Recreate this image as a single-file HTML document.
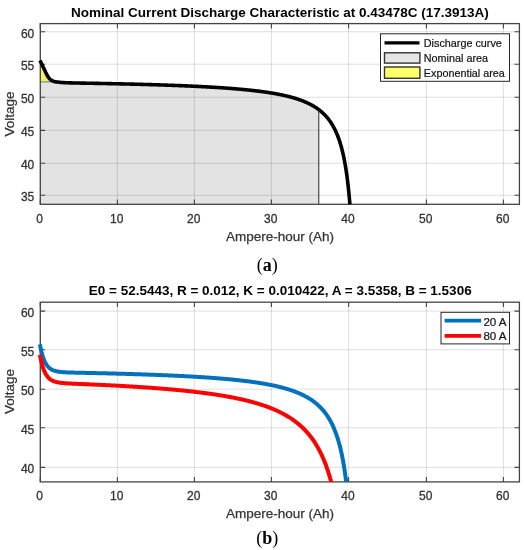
<!DOCTYPE html><html><head><meta charset="utf-8"><style>html,body{margin:0;padding:0;background:#fff;}svg{display:block;}.tk{font-family:"Liberation Sans",Arial,sans-serif;font-size:12px;fill:#333;stroke:#333;stroke-width:0.3px;}.lb{font-family:"Liberation Sans",Arial,sans-serif;font-size:13.5px;fill:#333;stroke:#333;stroke-width:0.25px;}.tt{font-family:"Liberation Sans",Arial,sans-serif;font-size:13.5px;font-weight:bold;fill:#000;}.lg{font-family:"Liberation Sans",Arial,sans-serif;font-size:10.8px;fill:#111;stroke:#111;stroke-width:0.2px;}.cap{font-family:"Liberation Serif","Times New Roman",serif;font-size:18px;fill:#000;}</style></head><body>
<svg width="524" height="550" viewBox="0 0 524 550">
<rect width="524" height="550" fill="#fff"/>
<defs><clipPath id="ct"><rect x="36.3" y="19.6" width="483.1" height="184.7"/></clipPath><clipPath id="cb"><rect x="36.3" y="298.2" width="483.1" height="183.7"/></clipPath></defs>
<g clip-path="url(#ct)">
<path d="M39.93,206.3 L40,60.4 L41,62.5 L42.1,64.8 L43.3,67.2 L44.6,70 L45.8,72.6 L47,75 L48.4,77.4 L49.8,79 L51.1,80.1 L52.6,80.9 L54.3,81.5 L56,81.9 L57,81.94 L57.39,82.01 L57.77,82.07 L58.16,82.12 L58.54,82.17 L58.93,82.22 L59.32,82.27 L59.7,82.31 L60.09,82.35 L60.48,82.38 L60.86,82.42 L61.25,82.45 L61.63,82.48 L62.02,82.51 L62.41,82.54 L62.79,82.56 L63.18,82.59 L63.56,82.61 L63.95,82.63 L64.34,82.65 L64.72,82.67 L65.11,82.69 L65.5,82.71 L65.88,82.72 L66.27,82.74 L66.65,82.75 L67.04,82.77 L67.43,82.78 L67.81,82.8 L68.2,82.81 L68.58,82.82 L68.97,82.83 L69.36,82.84 L69.74,82.85 L70.13,82.86 L70.52,82.87 L70.9,82.88 L71.29,82.89 L71.67,82.9 L72.06,82.91 L72.45,82.92 L72.83,82.93 L73.22,82.94 L73.6,82.95 L73.99,82.96 L74.38,82.96 L74.76,82.97 L75.15,82.98 L75.54,82.99 L75.92,82.99 L76.31,83 L76.69,83.01 L77.08,83.02 L77.47,83.02 L77.85,83.03 L78.24,83.04 L78.62,83.05 L79.01,83.05 L79.4,83.06 L79.78,83.07 L80.17,83.07 L80.56,83.08 L80.94,83.09 L81.33,83.09 L81.71,83.1 L82.1,83.11 L82.49,83.12 L82.87,83.12 L83.26,83.13 L83.64,83.14 L84.03,83.14 L84.42,83.15 L84.8,83.16 L85.19,83.16 L85.58,83.17 L85.96,83.18 L86.35,83.18 L86.73,83.19 L87.12,83.2 L87.51,83.2 L87.89,83.21 L88.28,83.22 L88.66,83.22 L89.05,83.23 L89.44,83.24 L89.82,83.25 L90.21,83.25 L90.6,83.26 L90.98,83.27 L91.37,83.27 L91.75,83.28 L92.14,83.29 L92.53,83.29 L92.91,83.3 L93.3,83.31 L93.68,83.31 L94.07,83.32 L94.46,83.33 L94.84,83.34 L95.23,83.34 L95.61,83.35 L96,83.36 L96.39,83.36 L96.77,83.37 L97.16,83.38 L97.55,83.39 L97.93,83.39 L98.32,83.4 L98.7,83.41 L99.09,83.42 L99.48,83.42 L99.86,83.43 L100.25,83.44 L100.63,83.44 L101.02,83.45 L101.41,83.46 L101.79,83.47 L102.18,83.47 L102.57,83.48 L102.95,83.49 L103.34,83.5 L103.72,83.5 L104.11,83.51 L104.5,83.52 L104.88,83.53 L105.27,83.54 L105.65,83.54 L106.04,83.55 L106.43,83.56 L106.81,83.57 L107.2,83.57 L107.59,83.58 L107.97,83.59 L108.36,83.6 L108.74,83.6 L109.13,83.61 L109.52,83.62 L109.9,83.63 L110.29,83.64 L110.67,83.64 L111.06,83.65 L111.45,83.66 L111.83,83.67 L112.22,83.68 L112.61,83.68 L112.99,83.69 L113.38,83.7 L113.76,83.71 L114.15,83.72 L114.54,83.73 L114.92,83.73 L115.31,83.74 L115.69,83.75 L116.08,83.76 L116.47,83.77 L116.85,83.78 L117.24,83.78 L117.63,83.79 L118.01,83.8 L118.4,83.81 L118.78,83.82 L119.17,83.83 L119.56,83.84 L119.94,83.84 L120.33,83.85 L120.71,83.86 L121.1,83.87 L121.49,83.88 L121.87,83.89 L122.26,83.9 L122.65,83.9 L123.03,83.91 L123.42,83.92 L123.8,83.93 L124.19,83.94 L124.58,83.95 L124.96,83.96 L125.35,83.97 L125.73,83.98 L126.12,83.99 L126.51,83.99 L126.89,84 L127.28,84.01 L127.67,84.02 L128.05,84.03 L128.44,84.04 L128.82,84.05 L129.21,84.06 L129.6,84.07 L129.98,84.08 L130.37,84.09 L130.75,84.1 L131.14,84.11 L131.53,84.12 L131.91,84.13 L132.3,84.13 L132.69,84.14 L133.07,84.15 L133.46,84.16 L133.84,84.17 L134.23,84.18 L134.62,84.19 L135,84.2 L135.39,84.21 L135.77,84.22 L136.16,84.23 L136.55,84.24 L136.93,84.25 L137.32,84.26 L137.71,84.27 L138.09,84.28 L138.48,84.29 L138.86,84.3 L139.25,84.31 L139.64,84.32 L140.02,84.33 L140.41,84.34 L140.79,84.35 L141.18,84.36 L141.57,84.37 L141.95,84.38 L142.34,84.4 L142.73,84.41 L143.11,84.42 L143.5,84.43 L143.88,84.44 L144.27,84.45 L144.66,84.46 L145.04,84.47 L145.43,84.48 L145.81,84.49 L146.2,84.5 L146.59,84.51 L146.97,84.52 L147.36,84.53 L147.75,84.55 L148.13,84.56 L148.52,84.57 L148.9,84.58 L149.29,84.59 L149.68,84.6 L150.06,84.61 L150.45,84.62 L150.83,84.64 L151.22,84.65 L151.61,84.66 L151.99,84.67 L152.38,84.68 L152.77,84.69 L153.15,84.7 L153.54,84.72 L153.92,84.73 L154.31,84.74 L154.7,84.75 L155.08,84.76 L155.47,84.77 L155.85,84.79 L156.24,84.8 L156.63,84.81 L157.01,84.82 L157.4,84.83 L157.79,84.85 L158.17,84.86 L158.56,84.87 L158.94,84.88 L159.33,84.9 L159.72,84.91 L160.1,84.92 L160.49,84.93 L160.87,84.95 L161.26,84.96 L161.65,84.97 L162.03,84.98 L162.42,85 L162.81,85.01 L163.19,85.02 L163.58,85.03 L163.96,85.05 L164.35,85.06 L164.74,85.07 L165.12,85.09 L165.51,85.1 L165.89,85.11 L166.28,85.13 L166.67,85.14 L167.05,85.15 L167.44,85.17 L167.83,85.18 L168.21,85.19 L168.6,85.21 L168.98,85.22 L169.37,85.23 L169.76,85.25 L170.14,85.26 L170.53,85.27 L170.91,85.29 L171.3,85.3 L171.69,85.32 L172.07,85.33 L172.46,85.34 L172.85,85.36 L173.23,85.37 L173.62,85.39 L174,85.4 L174.39,85.42 L174.78,85.43 L175.16,85.44 L175.55,85.46 L175.93,85.47 L176.32,85.49 L176.71,85.5 L177.09,85.52 L177.48,85.53 L177.86,85.55 L178.25,85.56 L178.64,85.58 L179.02,85.59 L179.41,85.61 L179.8,85.62 L180.18,85.64 L180.57,85.65 L180.95,85.67 L181.34,85.69 L181.73,85.7 L182.11,85.72 L182.5,85.73 L182.88,85.75 L183.27,85.76 L183.66,85.78 L184.04,85.8 L184.43,85.81 L184.82,85.83 L185.2,85.84 L185.59,85.86 L185.97,85.88 L186.36,85.89 L186.75,85.91 L187.13,85.93 L187.52,85.94 L187.9,85.96 L188.29,85.98 L188.68,85.99 L189.06,86.01 L189.45,86.03 L189.84,86.05 L190.22,86.06 L190.61,86.08 L190.99,86.1 L191.38,86.11 L191.77,86.13 L192.15,86.15 L192.54,86.17 L192.92,86.18 L193.31,86.2 L193.7,86.22 L194.08,86.24 L194.47,86.26 L194.86,86.27 L195.24,86.29 L195.63,86.31 L196.01,86.33 L196.4,86.35 L196.79,86.37 L197.17,86.39 L197.56,86.4 L197.94,86.42 L198.33,86.44 L198.72,86.46 L199.1,86.48 L199.49,86.5 L199.88,86.52 L200.26,86.54 L200.65,86.56 L201.03,86.58 L201.42,86.6 L201.81,86.62 L202.19,86.64 L202.58,86.66 L202.96,86.68 L203.35,86.7 L203.74,86.72 L204.12,86.74 L204.51,86.76 L204.9,86.78 L205.28,86.8 L205.67,86.82 L206.05,86.84 L206.44,86.86 L206.83,86.88 L207.21,86.9 L207.6,86.93 L207.98,86.95 L208.37,86.97 L208.76,86.99 L209.14,87.01 L209.53,87.03 L209.92,87.06 L210.3,87.08 L210.69,87.1 L211.07,87.12 L211.46,87.15 L211.85,87.17 L212.23,87.19 L212.62,87.21 L213,87.24 L213.39,87.26 L213.78,87.28 L214.16,87.31 L214.55,87.33 L214.94,87.35 L215.32,87.38 L215.71,87.4 L216.09,87.42 L216.48,87.45 L216.87,87.47 L217.25,87.5 L217.64,87.52 L218.02,87.55 L218.41,87.57 L218.8,87.6 L219.18,87.62 L219.57,87.65 L219.96,87.67 L220.34,87.7 L220.73,87.72 L221.11,87.75 L221.5,87.77 L221.89,87.8 L222.27,87.82 L222.66,87.85 L223.04,87.88 L223.43,87.9 L223.82,87.93 L224.2,87.96 L224.59,87.98 L224.98,88.01 L225.36,88.04 L225.75,88.07 L226.13,88.09 L226.52,88.12 L226.91,88.15 L227.29,88.18 L227.68,88.21 L228.06,88.23 L228.45,88.26 L228.84,88.29 L229.22,88.32 L229.61,88.35 L230,88.38 L230.38,88.41 L230.77,88.44 L231.15,88.47 L231.54,88.5 L231.93,88.53 L232.31,88.56 L232.7,88.59 L233.08,88.62 L233.47,88.65 L233.86,88.68 L234.24,88.71 L234.63,88.75 L235.02,88.78 L235.4,88.81 L235.79,88.84 L236.17,88.87 L236.56,88.91 L236.95,88.94 L237.33,88.97 L237.72,89 L238.1,89.04 L238.49,89.07 L238.88,89.1 L239.26,89.14 L239.65,89.17 L240.04,89.21 L240.42,89.24 L240.81,89.28 L241.19,89.31 L241.58,89.35 L241.97,89.38 L242.35,89.42 L242.74,89.45 L243.12,89.49 L243.51,89.53 L243.9,89.56 L244.28,89.6 L244.67,89.64 L245.06,89.68 L245.44,89.71 L245.83,89.75 L246.21,89.79 L246.6,89.83 L246.99,89.87 L247.37,89.91 L247.76,89.94 L248.14,89.98 L248.53,90.02 L248.92,90.06 L249.3,90.1 L249.69,90.14 L250.08,90.19 L250.46,90.23 L250.85,90.27 L251.23,90.31 L251.62,90.35 L252.01,90.39 L252.39,90.44 L252.78,90.48 L253.16,90.52 L253.55,90.57 L253.94,90.61 L254.32,90.66 L254.71,90.7 L255.09,90.75 L255.48,90.79 L255.87,90.84 L256.25,90.88 L256.64,90.93 L257.03,90.97 L257.41,91.02 L257.8,91.07 L258.18,91.12 L258.57,91.16 L258.96,91.21 L259.34,91.26 L259.73,91.31 L260.11,91.36 L260.5,91.41 L260.89,91.46 L261.27,91.51 L261.66,91.56 L262.05,91.61 L262.43,91.67 L262.82,91.72 L263.2,91.77 L263.59,91.82 L263.98,91.88 L264.36,91.93 L264.75,91.99 L265.13,92.04 L265.52,92.1 L265.91,92.15 L266.29,92.21 L266.68,92.27 L267.07,92.32 L267.45,92.38 L267.84,92.44 L268.22,92.5 L268.61,92.56 L269,92.62 L269.38,92.68 L269.77,92.74 L270.15,92.8 L270.54,92.86 L270.93,92.92 L271.31,92.98 L271.7,93.05 L272.09,93.11 L272.47,93.18 L272.86,93.24 L273.24,93.31 L273.63,93.37 L274.02,93.44 L274.4,93.51 L274.79,93.58 L275.17,93.64 L275.56,93.71 L275.95,93.78 L276.33,93.85 L276.72,93.92 L277.11,94 L277.49,94.07 L277.88,94.14 L278.26,94.22 L278.65,94.29 L279.04,94.37 L279.42,94.44 L279.81,94.52 L280.19,94.6 L280.58,94.67 L280.97,94.75 L281.35,94.83 L281.74,94.91 L282.13,95 L282.51,95.08 L282.9,95.16 L283.28,95.24 L283.67,95.33 L284.06,95.41 L284.44,95.5 L284.83,95.59 L285.21,95.68 L285.6,95.77 L285.99,95.86 L286.37,95.95 L286.76,96.04 L287.15,96.13 L287.53,96.23 L287.92,96.32 L288.3,96.42 L288.69,96.51 L289.08,96.61 L289.46,96.71 L289.85,96.81 L290.23,96.91 L290.62,97.01 L291.01,97.12 L291.39,97.22 L291.78,97.33 L292.17,97.43 L292.55,97.54 L292.94,97.65 L293.32,97.76 L293.71,97.88 L294.1,97.99 L294.48,98.1 L294.87,98.22 L295.25,98.34 L295.64,98.46 L296.03,98.58 L296.41,98.7 L296.8,98.82 L297.19,98.95 L297.57,99.07 L297.96,99.2 L298.34,99.33 L298.73,99.46 L299.12,99.59 L299.5,99.73 L299.89,99.87 L300.27,100 L300.66,100.14 L301.05,100.28 L301.43,100.43 L301.82,100.57 L302.21,100.72 L302.59,100.87 L302.98,101.02 L303.36,101.17 L303.75,101.33 L304.14,101.49 L304.52,101.65 L304.91,101.81 L305.29,101.97 L305.68,102.14 L306.07,102.31 L306.45,102.48 L306.84,102.65 L307.23,102.83 L307.61,103.01 L308,103.19 L308.38,103.38 L308.77,103.56 L309.16,103.75 L309.54,103.95 L309.93,104.14 L310.31,104.34 L310.7,104.54 L311.09,104.75 L311.47,104.96 L311.86,105.17 L312.25,105.38 L312.63,105.6 L313.02,105.82 L313.4,106.05 L313.79,106.28 L314.18,106.51 L314.56,106.75 L314.95,106.99 L315.33,107.24 L315.72,107.49 L316.11,107.74 L316.49,108 L316.88,108.27 L317.27,108.53 L317.65,108.81 L318.04,109.09 L318.42,109.37 L318.73,109.6 L318.73,206.3 Z" fill="#e3e3e3" stroke="none"/>
<path d="M40.3,81.9 L40,60.4 L41,62.5 L42.1,64.8 L43.3,67.2 L44.6,70 L45.8,72.6 L47,75 L48.4,77.4 L49.8,79 L51.1,80.1 L52.6,80.9 L54.3,81.5 L55.8,81.9 Z" fill="#f2f266" stroke="none"/>
<line x1="40.3" y1="81.9" x2="55.8" y2="81.9" stroke="#666" stroke-width="0.9"/>
</g>
<line x1="40.3" y1="23.6" x2="40.3" y2="204.3" stroke="rgba(38,38,38,0.15)" stroke-width="1"/>
<line x1="117.4" y1="23.6" x2="117.4" y2="204.3" stroke="rgba(38,38,38,0.15)" stroke-width="1"/>
<line x1="194.4" y1="23.6" x2="194.4" y2="204.3" stroke="rgba(38,38,38,0.15)" stroke-width="1"/>
<line x1="271.4" y1="23.6" x2="271.4" y2="204.3" stroke="rgba(38,38,38,0.15)" stroke-width="1"/>
<line x1="348.6" y1="23.6" x2="348.6" y2="204.3" stroke="rgba(38,38,38,0.15)" stroke-width="1"/>
<line x1="426.4" y1="23.6" x2="426.4" y2="204.3" stroke="rgba(38,38,38,0.15)" stroke-width="1"/>
<line x1="503.4" y1="23.6" x2="503.4" y2="204.3" stroke="rgba(38,38,38,0.15)" stroke-width="1"/>
<line x1="40.3" y1="195.3" x2="519.4" y2="195.3" stroke="rgba(38,38,38,0.15)" stroke-width="1"/>
<line x1="40.3" y1="163.3" x2="519.4" y2="163.3" stroke="rgba(38,38,38,0.15)" stroke-width="1"/>
<line x1="40.3" y1="130.35" x2="519.4" y2="130.35" stroke="rgba(38,38,38,0.15)" stroke-width="1"/>
<line x1="40.3" y1="97.25" x2="519.4" y2="97.25" stroke="rgba(38,38,38,0.15)" stroke-width="1"/>
<line x1="40.3" y1="64.2" x2="519.4" y2="64.2" stroke="rgba(38,38,38,0.15)" stroke-width="1"/>
<line x1="40.3" y1="31.7" x2="519.4" y2="31.7" stroke="rgba(38,38,38,0.15)" stroke-width="1"/>
<path d="M40.3,204.3V199.4M40.3,23.6V28.5M117.4,204.3V199.4M117.4,23.6V28.5M194.4,204.3V199.4M194.4,23.6V28.5M271.4,204.3V199.4M271.4,23.6V28.5M348.6,204.3V199.4M348.6,23.6V28.5M426.4,204.3V199.4M426.4,23.6V28.5M503.4,204.3V199.4M503.4,23.6V28.5M40.3,195.3H45.2M519.4,195.3H514.5M40.3,163.3H45.2M519.4,163.3H514.5M40.3,130.35H45.2M519.4,130.35H514.5M40.3,97.25H45.2M519.4,97.25H514.5M40.3,64.2H45.2M519.4,64.2H514.5M40.3,31.7H45.2M519.4,31.7H514.5" stroke="#444" stroke-width="1.1" fill="none"/>
<rect x="40.3" y="23.6" width="479.1" height="180.7" fill="none" stroke="#444" stroke-width="1.3"/>
<line x1="318.73" y1="109.6" x2="318.73" y2="204.3" stroke="#555" stroke-width="1.3"/>
<g clip-path="url(#ct)">
<path d="M40,60.4 L41,62.5 L42.1,64.8 L43.3,67.2 L44.6,70 L45.8,72.6 L47,75 L48.4,77.4 L49.8,79 L51.1,80.1 L52.6,80.9 L54.3,81.5 L56,81.9 L57,81.94 L57.39,82.01 L57.77,82.07 L58.16,82.12 L58.54,82.17 L58.93,82.22 L59.32,82.27 L59.7,82.31 L60.09,82.35 L60.48,82.38 L60.86,82.42 L61.25,82.45 L61.63,82.48 L62.02,82.51 L62.41,82.54 L62.79,82.56 L63.18,82.59 L63.56,82.61 L63.95,82.63 L64.34,82.65 L64.72,82.67 L65.11,82.69 L65.5,82.71 L65.88,82.72 L66.27,82.74 L66.65,82.75 L67.04,82.77 L67.43,82.78 L67.81,82.8 L68.2,82.81 L68.58,82.82 L68.97,82.83 L69.36,82.84 L69.74,82.85 L70.13,82.86 L70.52,82.87 L70.9,82.88 L71.29,82.89 L71.67,82.9 L72.06,82.91 L72.45,82.92 L72.83,82.93 L73.22,82.94 L73.6,82.95 L73.99,82.96 L74.38,82.96 L74.76,82.97 L75.15,82.98 L75.54,82.99 L75.92,82.99 L76.31,83 L76.69,83.01 L77.08,83.02 L77.47,83.02 L77.85,83.03 L78.24,83.04 L78.62,83.05 L79.01,83.05 L79.4,83.06 L79.78,83.07 L80.17,83.07 L80.56,83.08 L80.94,83.09 L81.33,83.09 L81.71,83.1 L82.1,83.11 L82.49,83.12 L82.87,83.12 L83.26,83.13 L83.64,83.14 L84.03,83.14 L84.42,83.15 L84.8,83.16 L85.19,83.16 L85.58,83.17 L85.96,83.18 L86.35,83.18 L86.73,83.19 L87.12,83.2 L87.51,83.2 L87.89,83.21 L88.28,83.22 L88.66,83.22 L89.05,83.23 L89.44,83.24 L89.82,83.25 L90.21,83.25 L90.6,83.26 L90.98,83.27 L91.37,83.27 L91.75,83.28 L92.14,83.29 L92.53,83.29 L92.91,83.3 L93.3,83.31 L93.68,83.31 L94.07,83.32 L94.46,83.33 L94.84,83.34 L95.23,83.34 L95.61,83.35 L96,83.36 L96.39,83.36 L96.77,83.37 L97.16,83.38 L97.55,83.39 L97.93,83.39 L98.32,83.4 L98.7,83.41 L99.09,83.42 L99.48,83.42 L99.86,83.43 L100.25,83.44 L100.63,83.44 L101.02,83.45 L101.41,83.46 L101.79,83.47 L102.18,83.47 L102.57,83.48 L102.95,83.49 L103.34,83.5 L103.72,83.5 L104.11,83.51 L104.5,83.52 L104.88,83.53 L105.27,83.54 L105.65,83.54 L106.04,83.55 L106.43,83.56 L106.81,83.57 L107.2,83.57 L107.59,83.58 L107.97,83.59 L108.36,83.6 L108.74,83.6 L109.13,83.61 L109.52,83.62 L109.9,83.63 L110.29,83.64 L110.67,83.64 L111.06,83.65 L111.45,83.66 L111.83,83.67 L112.22,83.68 L112.61,83.68 L112.99,83.69 L113.38,83.7 L113.76,83.71 L114.15,83.72 L114.54,83.73 L114.92,83.73 L115.31,83.74 L115.69,83.75 L116.08,83.76 L116.47,83.77 L116.85,83.78 L117.24,83.78 L117.63,83.79 L118.01,83.8 L118.4,83.81 L118.78,83.82 L119.17,83.83 L119.56,83.84 L119.94,83.84 L120.33,83.85 L120.71,83.86 L121.1,83.87 L121.49,83.88 L121.87,83.89 L122.26,83.9 L122.65,83.9 L123.03,83.91 L123.42,83.92 L123.8,83.93 L124.19,83.94 L124.58,83.95 L124.96,83.96 L125.35,83.97 L125.73,83.98 L126.12,83.99 L126.51,83.99 L126.89,84 L127.28,84.01 L127.67,84.02 L128.05,84.03 L128.44,84.04 L128.82,84.05 L129.21,84.06 L129.6,84.07 L129.98,84.08 L130.37,84.09 L130.75,84.1 L131.14,84.11 L131.53,84.12 L131.91,84.13 L132.3,84.13 L132.69,84.14 L133.07,84.15 L133.46,84.16 L133.84,84.17 L134.23,84.18 L134.62,84.19 L135,84.2 L135.39,84.21 L135.77,84.22 L136.16,84.23 L136.55,84.24 L136.93,84.25 L137.32,84.26 L137.71,84.27 L138.09,84.28 L138.48,84.29 L138.86,84.3 L139.25,84.31 L139.64,84.32 L140.02,84.33 L140.41,84.34 L140.79,84.35 L141.18,84.36 L141.57,84.37 L141.95,84.38 L142.34,84.4 L142.73,84.41 L143.11,84.42 L143.5,84.43 L143.88,84.44 L144.27,84.45 L144.66,84.46 L145.04,84.47 L145.43,84.48 L145.81,84.49 L146.2,84.5 L146.59,84.51 L146.97,84.52 L147.36,84.53 L147.75,84.55 L148.13,84.56 L148.52,84.57 L148.9,84.58 L149.29,84.59 L149.68,84.6 L150.06,84.61 L150.45,84.62 L150.83,84.64 L151.22,84.65 L151.61,84.66 L151.99,84.67 L152.38,84.68 L152.77,84.69 L153.15,84.7 L153.54,84.72 L153.92,84.73 L154.31,84.74 L154.7,84.75 L155.08,84.76 L155.47,84.77 L155.85,84.79 L156.24,84.8 L156.63,84.81 L157.01,84.82 L157.4,84.83 L157.79,84.85 L158.17,84.86 L158.56,84.87 L158.94,84.88 L159.33,84.9 L159.72,84.91 L160.1,84.92 L160.49,84.93 L160.87,84.95 L161.26,84.96 L161.65,84.97 L162.03,84.98 L162.42,85 L162.81,85.01 L163.19,85.02 L163.58,85.03 L163.96,85.05 L164.35,85.06 L164.74,85.07 L165.12,85.09 L165.51,85.1 L165.89,85.11 L166.28,85.13 L166.67,85.14 L167.05,85.15 L167.44,85.17 L167.83,85.18 L168.21,85.19 L168.6,85.21 L168.98,85.22 L169.37,85.23 L169.76,85.25 L170.14,85.26 L170.53,85.27 L170.91,85.29 L171.3,85.3 L171.69,85.32 L172.07,85.33 L172.46,85.34 L172.85,85.36 L173.23,85.37 L173.62,85.39 L174,85.4 L174.39,85.42 L174.78,85.43 L175.16,85.44 L175.55,85.46 L175.93,85.47 L176.32,85.49 L176.71,85.5 L177.09,85.52 L177.48,85.53 L177.86,85.55 L178.25,85.56 L178.64,85.58 L179.02,85.59 L179.41,85.61 L179.8,85.62 L180.18,85.64 L180.57,85.65 L180.95,85.67 L181.34,85.69 L181.73,85.7 L182.11,85.72 L182.5,85.73 L182.88,85.75 L183.27,85.76 L183.66,85.78 L184.04,85.8 L184.43,85.81 L184.82,85.83 L185.2,85.84 L185.59,85.86 L185.97,85.88 L186.36,85.89 L186.75,85.91 L187.13,85.93 L187.52,85.94 L187.9,85.96 L188.29,85.98 L188.68,85.99 L189.06,86.01 L189.45,86.03 L189.84,86.05 L190.22,86.06 L190.61,86.08 L190.99,86.1 L191.38,86.11 L191.77,86.13 L192.15,86.15 L192.54,86.17 L192.92,86.18 L193.31,86.2 L193.7,86.22 L194.08,86.24 L194.47,86.26 L194.86,86.27 L195.24,86.29 L195.63,86.31 L196.01,86.33 L196.4,86.35 L196.79,86.37 L197.17,86.39 L197.56,86.4 L197.94,86.42 L198.33,86.44 L198.72,86.46 L199.1,86.48 L199.49,86.5 L199.88,86.52 L200.26,86.54 L200.65,86.56 L201.03,86.58 L201.42,86.6 L201.81,86.62 L202.19,86.64 L202.58,86.66 L202.96,86.68 L203.35,86.7 L203.74,86.72 L204.12,86.74 L204.51,86.76 L204.9,86.78 L205.28,86.8 L205.67,86.82 L206.05,86.84 L206.44,86.86 L206.83,86.88 L207.21,86.9 L207.6,86.93 L207.98,86.95 L208.37,86.97 L208.76,86.99 L209.14,87.01 L209.53,87.03 L209.92,87.06 L210.3,87.08 L210.69,87.1 L211.07,87.12 L211.46,87.15 L211.85,87.17 L212.23,87.19 L212.62,87.21 L213,87.24 L213.39,87.26 L213.78,87.28 L214.16,87.31 L214.55,87.33 L214.94,87.35 L215.32,87.38 L215.71,87.4 L216.09,87.42 L216.48,87.45 L216.87,87.47 L217.25,87.5 L217.64,87.52 L218.02,87.55 L218.41,87.57 L218.8,87.6 L219.18,87.62 L219.57,87.65 L219.96,87.67 L220.34,87.7 L220.73,87.72 L221.11,87.75 L221.5,87.77 L221.89,87.8 L222.27,87.82 L222.66,87.85 L223.04,87.88 L223.43,87.9 L223.82,87.93 L224.2,87.96 L224.59,87.98 L224.98,88.01 L225.36,88.04 L225.75,88.07 L226.13,88.09 L226.52,88.12 L226.91,88.15 L227.29,88.18 L227.68,88.21 L228.06,88.23 L228.45,88.26 L228.84,88.29 L229.22,88.32 L229.61,88.35 L230,88.38 L230.38,88.41 L230.77,88.44 L231.15,88.47 L231.54,88.5 L231.93,88.53 L232.31,88.56 L232.7,88.59 L233.08,88.62 L233.47,88.65 L233.86,88.68 L234.24,88.71 L234.63,88.75 L235.02,88.78 L235.4,88.81 L235.79,88.84 L236.17,88.87 L236.56,88.91 L236.95,88.94 L237.33,88.97 L237.72,89 L238.1,89.04 L238.49,89.07 L238.88,89.1 L239.26,89.14 L239.65,89.17 L240.04,89.21 L240.42,89.24 L240.81,89.28 L241.19,89.31 L241.58,89.35 L241.97,89.38 L242.35,89.42 L242.74,89.45 L243.12,89.49 L243.51,89.53 L243.9,89.56 L244.28,89.6 L244.67,89.64 L245.06,89.68 L245.44,89.71 L245.83,89.75 L246.21,89.79 L246.6,89.83 L246.99,89.87 L247.37,89.91 L247.76,89.94 L248.14,89.98 L248.53,90.02 L248.92,90.06 L249.3,90.1 L249.69,90.14 L250.08,90.19 L250.46,90.23 L250.85,90.27 L251.23,90.31 L251.62,90.35 L252.01,90.39 L252.39,90.44 L252.78,90.48 L253.16,90.52 L253.55,90.57 L253.94,90.61 L254.32,90.66 L254.71,90.7 L255.09,90.75 L255.48,90.79 L255.87,90.84 L256.25,90.88 L256.64,90.93 L257.03,90.97 L257.41,91.02 L257.8,91.07 L258.18,91.12 L258.57,91.16 L258.96,91.21 L259.34,91.26 L259.73,91.31 L260.11,91.36 L260.5,91.41 L260.89,91.46 L261.27,91.51 L261.66,91.56 L262.05,91.61 L262.43,91.67 L262.82,91.72 L263.2,91.77 L263.59,91.82 L263.98,91.88 L264.36,91.93 L264.75,91.99 L265.13,92.04 L265.52,92.1 L265.91,92.15 L266.29,92.21 L266.68,92.27 L267.07,92.32 L267.45,92.38 L267.84,92.44 L268.22,92.5 L268.61,92.56 L269,92.62 L269.38,92.68 L269.77,92.74 L270.15,92.8 L270.54,92.86 L270.93,92.92 L271.31,92.98 L271.7,93.05 L272.09,93.11 L272.47,93.18 L272.86,93.24 L273.24,93.31 L273.63,93.37 L274.02,93.44 L274.4,93.51 L274.79,93.58 L275.17,93.64 L275.56,93.71 L275.95,93.78 L276.33,93.85 L276.72,93.92 L277.11,94 L277.49,94.07 L277.88,94.14 L278.26,94.22 L278.65,94.29 L279.04,94.37 L279.42,94.44 L279.81,94.52 L280.19,94.6 L280.58,94.67 L280.97,94.75 L281.35,94.83 L281.74,94.91 L282.13,95 L282.51,95.08 L282.9,95.16 L283.28,95.24 L283.67,95.33 L284.06,95.41 L284.44,95.5 L284.83,95.59 L285.21,95.68 L285.6,95.77 L285.99,95.86 L286.37,95.95 L286.76,96.04 L287.15,96.13 L287.53,96.23 L287.92,96.32 L288.3,96.42 L288.69,96.51 L289.08,96.61 L289.46,96.71 L289.85,96.81 L290.23,96.91 L290.62,97.01 L291.01,97.12 L291.39,97.22 L291.78,97.33 L292.17,97.43 L292.55,97.54 L292.94,97.65 L293.32,97.76 L293.71,97.88 L294.1,97.99 L294.48,98.1 L294.87,98.22 L295.25,98.34 L295.64,98.46 L296.03,98.58 L296.41,98.7 L296.8,98.82 L297.19,98.95 L297.57,99.07 L297.96,99.2 L298.34,99.33 L298.73,99.46 L299.12,99.59 L299.5,99.73 L299.89,99.87 L300.27,100 L300.66,100.14 L301.05,100.28 L301.43,100.43 L301.82,100.57 L302.21,100.72 L302.59,100.87 L302.98,101.02 L303.36,101.17 L303.75,101.33 L304.14,101.49 L304.52,101.65 L304.91,101.81 L305.29,101.97 L305.68,102.14 L306.07,102.31 L306.45,102.48 L306.84,102.65 L307.23,102.83 L307.61,103.01 L308,103.19 L308.38,103.38 L308.77,103.56 L309.16,103.75 L309.54,103.95 L309.93,104.14 L310.31,104.34 L310.7,104.54 L311.09,104.75 L311.47,104.96 L311.86,105.17 L312.25,105.38 L312.63,105.6 L313.02,105.82 L313.4,106.05 L313.79,106.28 L314.18,106.51 L314.56,106.75 L314.95,106.99 L315.33,107.24 L315.72,107.49 L316.11,107.74 L316.49,108 L316.88,108.27 L317.27,108.53 L317.65,108.81 L318.04,109.09 L318.42,109.37 L318.81,109.66 L319.2,109.95 L319.58,110.25 L319.97,110.56 L320.35,110.87 L320.74,111.19 L321.13,111.51 L321.51,111.84 L321.9,112.18 L322.29,112.52 L322.67,112.87 L323.06,113.23 L323.44,113.6 L323.83,113.97 L324.22,114.35 L324.6,114.74 L324.99,115.14 L325.37,115.55 L325.76,115.96 L326.15,116.39 L326.53,116.83 L326.92,117.27 L327.31,117.73 L327.69,118.2 L328.08,118.67 L328.46,119.16 L328.85,119.67 L329.24,120.18 L329.62,120.71 L330.01,121.25 L330.39,121.81 L330.78,122.38 L331.17,122.96 L331.55,123.56 L331.94,124.18 L332.32,124.82 L332.71,125.47 L333.1,126.14 L333.48,126.83 L333.87,127.54 L334.26,128.27 L334.64,129.03 L335.03,129.81 L335.41,130.61 L335.8,131.44 L336.19,132.29 L336.57,133.17 L336.96,134.08 L337.34,135.03 L337.73,136 L338.12,137.01 L338.5,138.06 L338.89,139.14 L339.28,140.26 L339.66,141.43 L340.05,142.64 L340.43,143.9 L340.82,145.2 L341.21,146.57 L341.59,147.99 L341.98,149.46 L342.36,151.01 L342.75,152.62 L342.85,153.03 L342.94,153.45 L343.04,153.88 L343.14,154.3 L343.23,154.74 L343.33,155.18 L343.43,155.62 L343.52,156.07 L343.62,156.52 L343.72,156.98 L343.81,157.45 L343.91,157.92 L344.01,158.39 L344.1,158.87 L344.2,159.36 L344.3,159.85 L344.39,160.35 L344.49,160.86 L344.59,161.37 L344.68,161.89 L344.78,162.41 L344.87,162.94 L344.97,163.48 L345.07,164.03 L345.16,164.58 L345.26,165.14 L345.36,165.7 L345.45,166.28 L345.55,166.86 L345.65,167.45 L345.74,168.05 L345.84,168.65 L345.94,169.27 L346.03,169.89 L346.13,170.52 L346.23,171.16 L346.32,171.81 L346.42,172.46 L346.52,173.13 L346.61,173.81 L346.71,174.49 L346.81,175.19 L346.9,175.89 L347,176.61 L347.1,177.34 L347.19,178.07 L347.29,178.82 L347.38,179.58 L347.48,180.36 L347.58,181.14 L347.67,181.94 L347.77,182.74 L347.87,183.56 L347.96,184.4 L348.06,185.25 L348.16,186.11 L348.25,186.98 L348.35,187.87 L348.45,188.78 L348.54,189.7 L348.64,190.63 L348.74,191.58 L348.83,192.55 L348.93,193.53 L349.03,194.53 L349.12,195.55 L349.22,196.59 L349.32,197.64 L349.41,198.72 L349.51,199.81 L349.61,200.92 L349.7,202.06 L349.8,203.21 L349.89,204.39 L349.99,205.59 L350.09,206.81 L350.18,208.06 L350.28,209.33 L350.38,210.62 L350.47,211.94" fill="none" stroke="#000" stroke-width="3.6" stroke-linejoin="round"/>
</g>
<text x="39.7" y="222.5" text-anchor="middle" class="tk">0</text>
<text x="116.8" y="222.5" text-anchor="middle" class="tk">10</text>
<text x="193.8" y="222.5" text-anchor="middle" class="tk">20</text>
<text x="270.8" y="222.5" text-anchor="middle" class="tk">30</text>
<text x="348" y="222.5" text-anchor="middle" class="tk">40</text>
<text x="425.8" y="222.5" text-anchor="middle" class="tk">50</text>
<text x="502.8" y="222.5" text-anchor="middle" class="tk">60</text>
<text x="34.3" y="201.1" text-anchor="end" class="tk">35</text>
<text x="34.3" y="169.1" text-anchor="end" class="tk">40</text>
<text x="34.3" y="136.15" text-anchor="end" class="tk">45</text>
<text x="34.3" y="103.05" text-anchor="end" class="tk">50</text>
<text x="34.3" y="70" text-anchor="end" class="tk">55</text>
<text x="34.3" y="37.5" text-anchor="end" class="tk">60</text>
<text x="279.9" y="17.0" text-anchor="middle" class="tt">Nominal Current Discharge Characteristic at 0.43478C (17.3913A)</text>
<text x="279.9" y="240.5" text-anchor="middle" class="lb">Ampere-hour (Ah)</text>
<text transform="translate(14,114) rotate(-90)" x="0" y="0" text-anchor="middle" class="lb">Voltage</text>
<rect x="380.5" y="33.8" width="129" height="47.5" fill="#fff" stroke="#262626" stroke-width="1"/>
<line x1="384.5" y1="42.9" x2="419.5" y2="42.9" stroke="#000" stroke-width="3.4"/>
<rect x="384.5" y="52.8" width="35.4" height="10.3" fill="#e5e5e5" stroke="#333" stroke-width="1.4"/>
<rect x="384.5" y="67.0" width="35.4" height="11.3" fill="#ffff6a" stroke="#333" stroke-width="1.4"/>
<text x="423.8" y="46.7" class="lg">Discharge curve</text>
<text x="423.8" y="62.4" class="lg">Nominal area</text>
<text x="423.8" y="77.1" class="lg">Exponential area</text>
<text x="267.2" y="270.5" text-anchor="middle" class="cap">(<tspan font-weight="bold">a</tspan>)</text>
<line x1="40.3" y1="302.2" x2="40.3" y2="481.9" stroke="rgba(38,38,38,0.15)" stroke-width="1"/>
<line x1="117.4" y1="302.2" x2="117.4" y2="481.9" stroke="rgba(38,38,38,0.15)" stroke-width="1"/>
<line x1="194.4" y1="302.2" x2="194.4" y2="481.9" stroke="rgba(38,38,38,0.15)" stroke-width="1"/>
<line x1="271.4" y1="302.2" x2="271.4" y2="481.9" stroke="rgba(38,38,38,0.15)" stroke-width="1"/>
<line x1="348.6" y1="302.2" x2="348.6" y2="481.9" stroke="rgba(38,38,38,0.15)" stroke-width="1"/>
<line x1="426.4" y1="302.2" x2="426.4" y2="481.9" stroke="rgba(38,38,38,0.15)" stroke-width="1"/>
<line x1="503.4" y1="302.2" x2="503.4" y2="481.9" stroke="rgba(38,38,38,0.15)" stroke-width="1"/>
<line x1="40.3" y1="467.4" x2="519.4" y2="467.4" stroke="rgba(38,38,38,0.15)" stroke-width="1"/>
<line x1="40.3" y1="427.8" x2="519.4" y2="427.8" stroke="rgba(38,38,38,0.15)" stroke-width="1"/>
<line x1="40.3" y1="389.2" x2="519.4" y2="389.2" stroke="rgba(38,38,38,0.15)" stroke-width="1"/>
<line x1="40.3" y1="349.8" x2="519.4" y2="349.8" stroke="rgba(38,38,38,0.15)" stroke-width="1"/>
<line x1="40.3" y1="311.1" x2="519.4" y2="311.1" stroke="rgba(38,38,38,0.15)" stroke-width="1"/>
<path d="M40.3,481.9V477M40.3,302.2V307.1M117.4,481.9V477M117.4,302.2V307.1M194.4,481.9V477M194.4,302.2V307.1M271.4,481.9V477M271.4,302.2V307.1M348.6,481.9V477M348.6,302.2V307.1M426.4,481.9V477M426.4,302.2V307.1M503.4,481.9V477M503.4,302.2V307.1M40.3,467.4H45.2M519.4,467.4H514.5M40.3,427.8H45.2M519.4,427.8H514.5M40.3,389.2H45.2M519.4,389.2H514.5M40.3,349.8H45.2M519.4,349.8H514.5M40.3,311.1H45.2M519.4,311.1H514.5" stroke="#444" stroke-width="1.1" fill="none"/>
<rect x="40.3" y="302.2" width="479.1" height="179.7" fill="none" stroke="#444" stroke-width="1.3"/>
<g clip-path="url(#cb)">
<path d="M39.93,344.44 L40.32,346.48 L40.7,348.37 L41.09,350.12 L41.47,351.74 L41.86,353.25 L42.25,354.64 L42.63,355.93 L43.02,357.13 L43.41,358.24 L43.79,359.27 L44.18,360.22 L44.56,361.1 L44.95,361.92 L45.34,362.68 L45.72,363.38 L46.11,364.03 L46.49,364.64 L46.88,365.2 L47.27,365.72 L47.65,366.2 L48.04,366.64 L48.43,367.06 L48.81,367.44 L49.2,367.8 L49.58,368.13 L49.97,368.44 L50.36,368.72 L50.74,368.99 L51.13,369.23 L51.51,369.46 L51.9,369.67 L52.29,369.87 L52.67,370.05 L53.06,370.22 L53.45,370.37 L53.83,370.52 L54.22,370.66 L54.6,370.78 L54.99,370.9 L55.38,371.01 L55.76,371.11 L56.15,371.21 L56.53,371.3 L56.92,371.38 L57.31,371.46 L57.69,371.53 L58.08,371.59 L58.47,371.66 L58.85,371.72 L59.24,371.77 L59.62,371.82 L60.01,371.87 L60.4,371.91 L60.78,371.96 L61.17,372 L61.55,372.03 L61.94,372.07 L62.33,372.1 L62.71,372.13 L63.1,372.16 L63.49,372.19 L63.87,372.21 L64.26,372.24 L64.64,372.26 L65.03,372.28 L65.42,372.31 L65.8,372.33 L66.19,372.35 L66.57,372.36 L66.96,372.38 L67.35,372.4 L67.73,372.41 L68.12,372.43 L68.51,372.44 L68.89,372.46 L69.28,372.47 L69.66,372.49 L70.05,372.5 L70.44,372.51 L70.82,372.52 L71.21,372.54 L71.59,372.55 L71.98,372.56 L72.37,372.57 L72.75,372.58 L73.14,372.59 L73.53,372.6 L73.91,372.61 L74.3,372.62 L74.68,372.63 L75.07,372.64 L75.46,372.65 L75.84,372.66 L76.23,372.67 L76.61,372.68 L77,372.69 L77.39,372.7 L77.77,372.71 L78.16,372.71 L78.54,372.72 L78.93,372.73 L79.32,372.74 L79.7,372.75 L80.09,372.76 L80.48,372.77 L80.86,372.78 L81.25,372.78 L81.63,372.79 L82.02,372.8 L82.41,372.81 L82.79,372.82 L83.18,372.83 L83.56,372.83 L83.95,372.84 L84.34,372.85 L84.72,372.86 L85.11,372.87 L85.5,372.88 L85.88,372.89 L86.27,372.89 L86.65,372.9 L87.04,372.91 L87.43,372.92 L87.81,372.93 L88.2,372.94 L88.58,372.94 L88.97,372.95 L89.36,372.96 L89.74,372.97 L90.13,372.98 L90.52,372.99 L90.9,373 L91.29,373 L91.67,373.01 L92.06,373.02 L92.45,373.03 L92.83,373.04 L93.22,373.05 L93.6,373.06 L93.99,373.07 L94.38,373.07 L94.76,373.08 L95.15,373.09 L95.54,373.1 L95.92,373.11 L96.31,373.12 L96.69,373.13 L97.08,373.14 L97.47,373.15 L97.85,373.15 L98.24,373.16 L98.62,373.17 L99.01,373.18 L99.4,373.19 L99.78,373.2 L100.17,373.21 L100.56,373.22 L100.94,373.23 L101.33,373.24 L101.71,373.25 L102.1,373.26 L102.49,373.26 L102.87,373.27 L103.26,373.28 L103.64,373.29 L104.03,373.3 L104.42,373.31 L104.8,373.32 L105.19,373.33 L105.58,373.34 L105.96,373.35 L106.35,373.36 L106.73,373.37 L107.12,373.38 L107.51,373.39 L107.89,373.4 L108.28,373.41 L108.66,373.42 L109.05,373.43 L109.44,373.44 L109.82,373.45 L110.21,373.46 L110.6,373.47 L110.98,373.48 L111.37,373.49 L111.75,373.5 L112.14,373.51 L112.53,373.52 L112.91,373.53 L113.3,373.54 L113.68,373.55 L114.07,373.56 L114.46,373.57 L114.84,373.58 L115.23,373.59 L115.62,373.6 L116,373.61 L116.39,373.62 L116.77,373.63 L117.16,373.64 L117.55,373.65 L117.93,373.66 L118.32,373.67 L118.7,373.68 L119.09,373.69 L119.48,373.7 L119.86,373.71 L120.25,373.73 L120.64,373.74 L121.02,373.75 L121.41,373.76 L121.79,373.77 L122.18,373.78 L122.57,373.79 L122.95,373.8 L123.34,373.81 L123.72,373.82 L124.11,373.83 L124.5,373.85 L124.88,373.86 L125.27,373.87 L125.66,373.88 L126.04,373.89 L126.43,373.9 L126.81,373.91 L127.2,373.92 L127.59,373.94 L127.97,373.95 L128.36,373.96 L128.74,373.97 L129.13,373.98 L129.52,373.99 L129.9,374.01 L130.29,374.02 L130.68,374.03 L131.06,374.04 L131.45,374.05 L131.83,374.06 L132.22,374.08 L132.61,374.09 L132.99,374.1 L133.38,374.11 L133.76,374.12 L134.15,374.14 L134.54,374.15 L134.92,374.16 L135.31,374.17 L135.7,374.18 L136.08,374.2 L136.47,374.21 L136.85,374.22 L137.24,374.23 L137.63,374.25 L138.01,374.26 L138.4,374.27 L138.78,374.28 L139.17,374.3 L139.56,374.31 L139.94,374.32 L140.33,374.34 L140.72,374.35 L141.1,374.36 L141.49,374.37 L141.87,374.39 L142.26,374.4 L142.65,374.41 L143.03,374.43 L143.42,374.44 L143.8,374.45 L144.19,374.47 L144.58,374.48 L144.96,374.49 L145.35,374.51 L145.74,374.52 L146.12,374.53 L146.51,374.55 L146.89,374.56 L147.28,374.57 L147.67,374.59 L148.05,374.6 L148.44,374.61 L148.82,374.63 L149.21,374.64 L149.6,374.66 L149.98,374.67 L150.37,374.68 L150.76,374.7 L151.14,374.71 L151.53,374.73 L151.91,374.74 L152.3,374.76 L152.69,374.77 L153.07,374.78 L153.46,374.8 L153.84,374.81 L154.23,374.83 L154.62,374.84 L155,374.86 L155.39,374.87 L155.78,374.89 L156.16,374.9 L156.55,374.92 L156.93,374.93 L157.32,374.95 L157.71,374.96 L158.09,374.98 L158.48,374.99 L158.86,375.01 L159.25,375.02 L159.64,375.04 L160.02,375.05 L160.41,375.07 L160.79,375.08 L161.18,375.1 L161.57,375.11 L161.95,375.13 L162.34,375.15 L162.73,375.16 L163.11,375.18 L163.5,375.19 L163.88,375.21 L164.27,375.23 L164.66,375.24 L165.04,375.26 L165.43,375.27 L165.81,375.29 L166.2,375.31 L166.59,375.32 L166.97,375.34 L167.36,375.36 L167.75,375.37 L168.13,375.39 L168.52,375.41 L168.9,375.42 L169.29,375.44 L169.68,375.46 L170.06,375.48 L170.45,375.49 L170.83,375.51 L171.22,375.53 L171.61,375.54 L171.99,375.56 L172.38,375.58 L172.77,375.6 L173.15,375.61 L173.54,375.63 L173.92,375.65 L174.31,375.67 L174.7,375.69 L175.08,375.7 L175.47,375.72 L175.85,375.74 L176.24,375.76 L176.63,375.78 L177.01,375.8 L177.4,375.81 L177.79,375.83 L178.17,375.85 L178.56,375.87 L178.94,375.89 L179.33,375.91 L179.72,375.93 L180.1,375.95 L180.49,375.96 L180.87,375.98 L181.26,376 L181.65,376.02 L182.03,376.04 L182.42,376.06 L182.81,376.08 L183.19,376.1 L183.58,376.12 L183.96,376.14 L184.35,376.16 L184.74,376.18 L185.12,376.2 L185.51,376.22 L185.89,376.24 L186.28,376.26 L186.67,376.28 L187.05,376.3 L187.44,376.32 L187.83,376.34 L188.21,376.37 L188.6,376.39 L188.98,376.41 L189.37,376.43 L189.76,376.45 L190.14,376.47 L190.53,376.49 L190.91,376.51 L191.3,376.54 L191.69,376.56 L192.07,376.58 L192.46,376.6 L192.85,376.62 L193.23,376.65 L193.62,376.67 L194,376.69 L194.39,376.71 L194.78,376.74 L195.16,376.76 L195.55,376.78 L195.93,376.8 L196.32,376.83 L196.71,376.85 L197.09,376.87 L197.48,376.9 L197.87,376.92 L198.25,376.94 L198.64,376.97 L199.02,376.99 L199.41,377.01 L199.8,377.04 L200.18,377.06 L200.57,377.09 L200.95,377.11 L201.34,377.14 L201.73,377.16 L202.11,377.18 L202.5,377.21 L202.89,377.23 L203.27,377.26 L203.66,377.29 L204.04,377.31 L204.43,377.34 L204.82,377.36 L205.2,377.39 L205.59,377.41 L205.97,377.44 L206.36,377.46 L206.75,377.49 L207.13,377.52 L207.52,377.54 L207.91,377.57 L208.29,377.6 L208.68,377.62 L209.06,377.65 L209.45,377.68 L209.84,377.71 L210.22,377.73 L210.61,377.76 L210.99,377.79 L211.38,377.82 L211.77,377.84 L212.15,377.87 L212.54,377.9 L212.93,377.93 L213.31,377.96 L213.7,377.99 L214.08,378.02 L214.47,378.04 L214.86,378.07 L215.24,378.1 L215.63,378.13 L216.01,378.16 L216.4,378.19 L216.79,378.22 L217.17,378.25 L217.56,378.28 L217.95,378.31 L218.33,378.34 L218.72,378.38 L219.1,378.41 L219.49,378.44 L219.88,378.47 L220.26,378.5 L220.65,378.53 L221.03,378.56 L221.42,378.6 L221.81,378.63 L222.19,378.66 L222.58,378.69 L222.97,378.73 L223.35,378.76 L223.74,378.79 L224.12,378.83 L224.51,378.86 L224.9,378.89 L225.28,378.93 L225.67,378.96 L226.05,379 L226.44,379.03 L226.83,379.06 L227.21,379.1 L227.6,379.13 L227.99,379.17 L228.37,379.21 L228.76,379.24 L229.14,379.28 L229.53,379.31 L229.92,379.35 L230.3,379.39 L230.69,379.42 L231.07,379.46 L231.46,379.5 L231.85,379.53 L232.23,379.57 L232.62,379.61 L233.01,379.65 L233.39,379.69 L233.78,379.73 L234.16,379.76 L234.55,379.8 L234.94,379.84 L235.32,379.88 L235.71,379.92 L236.09,379.96 L236.48,380 L236.87,380.04 L237.25,380.08 L237.64,380.13 L238.02,380.17 L238.41,380.21 L238.8,380.25 L239.18,380.29 L239.57,380.33 L239.96,380.38 L240.34,380.42 L240.73,380.46 L241.11,380.51 L241.5,380.55 L241.89,380.59 L242.27,380.64 L242.66,380.68 L243.04,380.73 L243.43,380.77 L243.82,380.82 L244.2,380.87 L244.59,380.91 L244.98,380.96 L245.36,381.01 L245.75,381.05 L246.13,381.1 L246.52,381.15 L246.91,381.2 L247.29,381.24 L247.68,381.29 L248.06,381.34 L248.45,381.39 L248.84,381.44 L249.22,381.49 L249.61,381.54 L250,381.59 L250.38,381.64 L250.77,381.7 L251.15,381.75 L251.54,381.8 L251.93,381.85 L252.31,381.9 L252.7,381.96 L253.08,382.01 L253.47,382.07 L253.86,382.12 L254.24,382.18 L254.63,382.23 L255.02,382.29 L255.4,382.34 L255.79,382.4 L256.17,382.46 L256.56,382.51 L256.95,382.57 L257.33,382.63 L257.72,382.69 L258.1,382.75 L258.49,382.81 L258.88,382.87 L259.26,382.93 L259.65,382.99 L260.04,383.05 L260.42,383.11 L260.81,383.18 L261.19,383.24 L261.58,383.3 L261.97,383.37 L262.35,383.43 L262.74,383.5 L263.12,383.56 L263.51,383.63 L263.9,383.69 L264.28,383.76 L264.67,383.83 L265.06,383.9 L265.44,383.97 L265.83,384.03 L266.21,384.1 L266.6,384.17 L266.99,384.25 L267.37,384.32 L267.76,384.39 L268.14,384.46 L268.53,384.54 L268.92,384.61 L269.3,384.68 L269.69,384.76 L270.08,384.84 L270.46,384.91 L270.85,384.99 L271.23,385.07 L271.62,385.15 L272.01,385.23 L272.39,385.31 L272.78,385.39 L273.16,385.47 L273.55,385.55 L273.94,385.63 L274.32,385.72 L274.71,385.8 L275.1,385.89 L275.48,385.97 L275.87,386.06 L276.25,386.15 L276.64,386.23 L277.03,386.32 L277.41,386.41 L277.8,386.5 L278.18,386.6 L278.57,386.69 L278.96,386.78 L279.34,386.88 L279.73,386.97 L280.12,387.07 L280.5,387.16 L280.89,387.26 L281.27,387.36 L281.66,387.46 L282.05,387.56 L282.43,387.66 L282.82,387.77 L283.2,387.87 L283.59,387.98 L283.98,388.08 L284.36,388.19 L284.75,388.3 L285.14,388.41 L285.52,388.52 L285.91,388.63 L286.29,388.74 L286.68,388.86 L287.07,388.97 L287.45,389.09 L287.84,389.21 L288.22,389.33 L288.61,389.45 L289,389.57 L289.38,389.69 L289.77,389.81 L290.16,389.94 L290.54,390.07 L290.93,390.2 L291.31,390.33 L291.7,390.46 L292.09,390.59 L292.47,390.72 L292.86,390.86 L293.24,391 L293.63,391.14 L294.02,391.28 L294.4,391.42 L294.79,391.56 L295.18,391.71 L295.56,391.86 L295.95,392.01 L296.33,392.16 L296.72,392.31 L297.11,392.47 L297.49,392.62 L297.88,392.78 L298.26,392.94 L298.65,393.1 L299.04,393.27 L299.42,393.44 L299.81,393.6 L300.2,393.78 L300.58,393.95 L300.97,394.12 L301.35,394.3 L301.74,394.48 L302.13,394.67 L302.51,394.85 L302.9,395.04 L303.28,395.23 L303.67,395.42 L304.06,395.62 L304.44,395.81 L304.83,396.02 L305.22,396.22 L305.6,396.43 L305.99,396.64 L306.37,396.85 L306.76,397.06 L307.15,397.28 L307.53,397.5 L307.92,397.73 L308.3,397.96 L308.69,398.19 L309.08,398.43 L309.46,398.66 L309.85,398.91 L310.24,399.15 L310.62,399.4 L311.01,399.66 L311.39,399.92 L311.78,400.18 L312.17,400.45 L312.55,400.72 L312.94,400.99 L313.32,401.27 L313.71,401.56 L314.1,401.85 L314.48,402.14 L314.87,402.44 L315.25,402.75 L315.64,403.06 L316.03,403.37 L316.41,403.69 L316.8,404.02 L317.19,404.35 L317.57,404.69 L317.96,405.03 L318.34,405.39 L318.73,405.74 L319.12,406.11 L319.5,406.48 L319.89,406.86 L320.27,407.24 L320.66,407.64 L321.05,408.04 L321.43,408.45 L321.82,408.86 L322.21,409.29 L322.59,409.72 L322.98,410.17 L323.36,410.62 L323.75,411.08 L324.14,411.56 L324.52,412.04 L324.91,412.53 L325.29,413.04 L325.68,413.55 L326.07,414.08 L326.45,414.62 L326.84,415.17 L327.23,415.73 L327.61,416.31 L328,416.91 L328.38,417.51 L328.77,418.13 L329.16,418.77 L329.54,419.42 L329.93,420.09 L330.03,420.26 L330.12,420.43 L330.22,420.61 L330.31,420.78 L330.41,420.95 L330.51,421.13 L330.6,421.31 L330.7,421.49 L330.8,421.66 L330.89,421.84 L330.99,422.03 L331.09,422.21 L331.18,422.39 L331.28,422.58 L331.38,422.76 L331.47,422.95 L331.57,423.14 L331.67,423.33 L331.76,423.52 L331.86,423.72 L331.96,423.91 L332.05,424.11 L332.15,424.3 L332.25,424.5 L332.34,424.7 L332.44,424.9 L332.54,425.1 L332.63,425.31 L332.73,425.51 L332.82,425.72 L332.92,425.93 L333.02,426.14 L333.11,426.35 L333.21,426.56 L333.31,426.78 L333.4,426.99 L333.5,427.21 L333.6,427.43 L333.69,427.65 L333.79,427.87 L333.89,428.09 L333.98,428.32 L334.08,428.55 L334.18,428.78 L334.27,429.01 L334.37,429.24 L334.47,429.47 L334.56,429.71 L334.66,429.95 L334.76,430.19 L334.85,430.43 L334.95,430.67 L335.05,430.91 L335.14,431.16 L335.24,431.41 L335.33,431.66 L335.43,431.91 L335.53,432.17 L335.62,432.42 L335.72,432.68 L335.82,432.94 L335.91,433.21 L336.01,433.47 L336.11,433.74 L336.2,434.01 L336.3,434.28 L336.4,434.55 L336.49,434.83 L336.59,435.11 L336.69,435.39 L336.78,435.67 L336.88,435.95 L336.98,436.24 L337.07,436.53 L337.17,436.82 L337.27,437.12 L337.36,437.41 L337.46,437.71 L337.56,438.02 L337.65,438.32 L337.75,438.63 L337.84,438.94 L337.94,439.25 L338.04,439.57 L338.13,439.89 L338.23,440.21 L338.33,440.53 L338.42,440.86 L338.52,441.19 L338.62,441.52 L338.71,441.86 L338.81,442.2 L338.91,442.54 L339,442.88 L339.1,443.23 L339.2,443.58 L339.29,443.94 L339.39,444.29 L339.49,444.66 L339.58,445.02 L339.68,445.39 L339.78,445.76 L339.87,446.14 L339.97,446.51 L340.07,446.9 L340.16,447.28 L340.26,447.67 L340.35,448.07 L340.45,448.46 L340.55,448.87 L340.64,449.27 L340.74,449.68 L340.84,450.09 L340.93,450.51 L341.03,450.93 L341.13,451.36 L341.22,451.79 L341.32,452.23 L341.42,452.66 L341.51,453.11 L341.61,453.56 L341.71,454.01 L341.8,454.47 L341.9,454.93 L342,455.4 L342.09,455.87 L342.19,456.35 L342.29,456.83 L342.38,457.32 L342.48,457.82 L342.58,458.32 L342.67,458.82 L342.77,459.33 L342.86,459.85 L342.96,460.37 L343.06,460.9 L343.15,461.43 L343.25,461.97 L343.35,462.52 L343.44,463.07 L343.54,463.63 L343.64,464.19 L343.73,464.77 L343.83,465.35 L343.93,465.93 L344.02,466.52 L344.12,467.12 L344.22,467.73 L344.31,468.35 L344.41,468.97 L344.51,469.6 L344.6,470.24 L344.7,470.88 L344.8,471.54 L344.89,472.2 L344.99,472.87 L345.09,473.55 L345.18,474.23 L345.28,474.93 L345.37,475.64 L345.47,476.35 L345.57,477.08 L345.66,477.81 L345.76,478.56 L345.86,479.31 L345.95,480.08 L346.05,480.85 L346.15,481.64 L346.24,482.43 L346.34,483.24 L346.44,484.06 L346.53,484.89 L346.63,485.74 L346.73,486.59 L346.82,487.46 L346.92,488.34 L347.02,489.23 L347.11,490.14" fill="none" stroke="#0072bd" stroke-width="4.0" stroke-linejoin="round"/>
<path d="M39.93,354.94 L40.32,356.99 L40.7,358.89 L41.09,360.64 L41.47,362.27 L41.86,363.78 L42.25,365.18 L42.63,366.48 L43.02,367.68 L43.41,368.8 L43.79,369.83 L44.18,370.79 L44.56,371.68 L44.95,372.5 L45.34,373.27 L45.72,373.98 L46.11,374.64 L46.49,375.25 L46.88,375.81 L47.27,376.34 L47.65,376.83 L48.04,377.28 L48.43,377.7 L48.81,378.09 L49.2,378.45 L49.58,378.79 L49.97,379.1 L50.36,379.39 L50.74,379.66 L51.13,379.91 L51.51,380.15 L51.9,380.37 L52.29,380.57 L52.67,380.76 L53.06,380.93 L53.45,381.1 L53.83,381.25 L54.22,381.39 L54.6,381.52 L54.99,381.65 L55.38,381.77 L55.76,381.87 L56.15,381.98 L56.53,382.07 L56.92,382.16 L57.31,382.24 L57.69,382.32 L58.08,382.39 L58.47,382.46 L58.85,382.53 L59.24,382.59 L59.62,382.65 L60.01,382.7 L60.4,382.75 L60.78,382.8 L61.17,382.85 L61.55,382.89 L61.94,382.93 L62.33,382.97 L62.71,383.01 L63.1,383.05 L63.49,383.08 L63.87,383.12 L64.26,383.15 L64.64,383.18 L65.03,383.21 L65.42,383.24 L65.8,383.26 L66.19,383.29 L66.57,383.31 L66.96,383.34 L67.35,383.36 L67.73,383.39 L68.12,383.41 L68.51,383.43 L68.89,383.45 L69.28,383.47 L69.66,383.49 L70.05,383.51 L70.44,383.53 L70.82,383.55 L71.21,383.57 L71.59,383.59 L71.98,383.61 L72.37,383.63 L72.75,383.65 L73.14,383.66 L73.53,383.68 L73.91,383.7 L74.3,383.72 L74.68,383.73 L75.07,383.75 L75.46,383.77 L75.84,383.78 L76.23,383.8 L76.61,383.82 L77,383.83 L77.39,383.85 L77.77,383.87 L78.16,383.88 L78.54,383.9 L78.93,383.92 L79.32,383.93 L79.7,383.95 L80.09,383.97 L80.48,383.98 L80.86,384 L81.25,384.01 L81.63,384.03 L82.02,384.05 L82.41,384.06 L82.79,384.08 L83.18,384.1 L83.56,384.11 L83.95,384.13 L84.34,384.15 L84.72,384.16 L85.11,384.18 L85.5,384.19 L85.88,384.21 L86.27,384.23 L86.65,384.24 L87.04,384.26 L87.43,384.28 L87.81,384.29 L88.2,384.31 L88.58,384.33 L88.97,384.34 L89.36,384.36 L89.74,384.38 L90.13,384.39 L90.52,384.41 L90.9,384.43 L91.29,384.44 L91.67,384.46 L92.06,384.48 L92.45,384.5 L92.83,384.51 L93.22,384.53 L93.6,384.55 L93.99,384.56 L94.38,384.58 L94.76,384.6 L95.15,384.62 L95.54,384.63 L95.92,384.65 L96.31,384.67 L96.69,384.69 L97.08,384.7 L97.47,384.72 L97.85,384.74 L98.24,384.76 L98.62,384.78 L99.01,384.79 L99.4,384.81 L99.78,384.83 L100.17,384.85 L100.56,384.87 L100.94,384.88 L101.33,384.9 L101.71,384.92 L102.1,384.94 L102.49,384.96 L102.87,384.98 L103.26,384.99 L103.64,385.01 L104.03,385.03 L104.42,385.05 L104.8,385.07 L105.19,385.09 L105.58,385.11 L105.96,385.13 L106.35,385.14 L106.73,385.16 L107.12,385.18 L107.51,385.2 L107.89,385.22 L108.28,385.24 L108.66,385.26 L109.05,385.28 L109.44,385.3 L109.82,385.32 L110.21,385.34 L110.6,385.36 L110.98,385.38 L111.37,385.4 L111.75,385.42 L112.14,385.44 L112.53,385.46 L112.91,385.48 L113.3,385.5 L113.68,385.52 L114.07,385.54 L114.46,385.56 L114.84,385.58 L115.23,385.6 L115.62,385.62 L116,385.64 L116.39,385.66 L116.77,385.68 L117.16,385.7 L117.55,385.72 L117.93,385.74 L118.32,385.76 L118.7,385.78 L119.09,385.8 L119.48,385.83 L119.86,385.85 L120.25,385.87 L120.64,385.89 L121.02,385.91 L121.41,385.93 L121.79,385.95 L122.18,385.97 L122.57,386 L122.95,386.02 L123.34,386.04 L123.72,386.06 L124.11,386.08 L124.5,386.11 L124.88,386.13 L125.27,386.15 L125.66,386.17 L126.04,386.19 L126.43,386.22 L126.81,386.24 L127.2,386.26 L127.59,386.28 L127.97,386.31 L128.36,386.33 L128.74,386.35 L129.13,386.37 L129.52,386.4 L129.9,386.42 L130.29,386.44 L130.68,386.47 L131.06,386.49 L131.45,386.51 L131.83,386.54 L132.22,386.56 L132.61,386.58 L132.99,386.61 L133.38,386.63 L133.76,386.66 L134.15,386.68 L134.54,386.7 L134.92,386.73 L135.31,386.75 L135.7,386.78 L136.08,386.8 L136.47,386.82 L136.85,386.85 L137.24,386.87 L137.63,386.9 L138.01,386.92 L138.4,386.95 L138.78,386.97 L139.17,387 L139.56,387.02 L139.94,387.05 L140.33,387.07 L140.72,387.1 L141.1,387.12 L141.49,387.15 L141.87,387.18 L142.26,387.2 L142.65,387.23 L143.03,387.25 L143.42,387.28 L143.8,387.3 L144.19,387.33 L144.58,387.36 L144.96,387.38 L145.35,387.41 L145.74,387.44 L146.12,387.46 L146.51,387.49 L146.89,387.52 L147.28,387.54 L147.67,387.57 L148.05,387.6 L148.44,387.62 L148.82,387.65 L149.21,387.68 L149.6,387.71 L149.98,387.73 L150.37,387.76 L150.76,387.79 L151.14,387.82 L151.53,387.85 L151.91,387.87 L152.3,387.9 L152.69,387.93 L153.07,387.96 L153.46,387.99 L153.84,388.02 L154.23,388.05 L154.62,388.07 L155,388.1 L155.39,388.13 L155.78,388.16 L156.16,388.19 L156.55,388.22 L156.93,388.25 L157.32,388.28 L157.71,388.31 L158.09,388.34 L158.48,388.37 L158.86,388.4 L159.25,388.43 L159.64,388.46 L160.02,388.49 L160.41,388.52 L160.79,388.55 L161.18,388.58 L161.57,388.61 L161.95,388.64 L162.34,388.68 L162.73,388.71 L163.11,388.74 L163.5,388.77 L163.88,388.8 L164.27,388.83 L164.66,388.87 L165.04,388.9 L165.43,388.93 L165.81,388.96 L166.2,388.99 L166.59,389.03 L166.97,389.06 L167.36,389.09 L167.75,389.13 L168.13,389.16 L168.52,389.19 L168.9,389.23 L169.29,389.26 L169.68,389.29 L170.06,389.33 L170.45,389.36 L170.83,389.39 L171.22,389.43 L171.61,389.46 L171.99,389.5 L172.38,389.53 L172.77,389.57 L173.15,389.6 L173.54,389.64 L173.92,389.67 L174.31,389.71 L174.7,389.74 L175.08,389.78 L175.47,389.81 L175.85,389.85 L176.24,389.89 L176.63,389.92 L177.01,389.96 L177.4,390 L177.79,390.03 L178.17,390.07 L178.56,390.11 L178.94,390.14 L179.33,390.18 L179.72,390.22 L180.1,390.26 L180.49,390.29 L180.87,390.33 L181.26,390.37 L181.65,390.41 L182.03,390.45 L182.42,390.48 L182.81,390.52 L183.19,390.56 L183.58,390.6 L183.96,390.64 L184.35,390.68 L184.74,390.72 L185.12,390.76 L185.51,390.8 L185.89,390.84 L186.28,390.88 L186.67,390.92 L187.05,390.96 L187.44,391 L187.83,391.04 L188.21,391.08 L188.6,391.13 L188.98,391.17 L189.37,391.21 L189.76,391.25 L190.14,391.29 L190.53,391.34 L190.91,391.38 L191.3,391.42 L191.69,391.46 L192.07,391.51 L192.46,391.55 L192.85,391.59 L193.23,391.64 L193.62,391.68 L194,391.73 L194.39,391.77 L194.78,391.82 L195.16,391.86 L195.55,391.91 L195.93,391.95 L196.32,392 L196.71,392.04 L197.09,392.09 L197.48,392.13 L197.87,392.18 L198.25,392.23 L198.64,392.27 L199.02,392.32 L199.41,392.37 L199.8,392.42 L200.18,392.46 L200.57,392.51 L200.95,392.56 L201.34,392.61 L201.73,392.66 L202.11,392.7 L202.5,392.75 L202.89,392.8 L203.27,392.85 L203.66,392.9 L204.04,392.95 L204.43,393 L204.82,393.05 L205.2,393.1 L205.59,393.16 L205.97,393.21 L206.36,393.26 L206.75,393.31 L207.13,393.36 L207.52,393.41 L207.91,393.47 L208.29,393.52 L208.68,393.57 L209.06,393.63 L209.45,393.68 L209.84,393.73 L210.22,393.79 L210.61,393.84 L210.99,393.9 L211.38,393.95 L211.77,394.01 L212.15,394.06 L212.54,394.12 L212.93,394.18 L213.31,394.23 L213.7,394.29 L214.08,394.35 L214.47,394.4 L214.86,394.46 L215.24,394.52 L215.63,394.58 L216.01,394.64 L216.4,394.7 L216.79,394.76 L217.17,394.82 L217.56,394.88 L217.95,394.94 L218.33,395 L218.72,395.06 L219.1,395.12 L219.49,395.18 L219.88,395.24 L220.26,395.3 L220.65,395.37 L221.03,395.43 L221.42,395.49 L221.81,395.56 L222.19,395.62 L222.58,395.69 L222.97,395.75 L223.35,395.82 L223.74,395.88 L224.12,395.95 L224.51,396.01 L224.9,396.08 L225.28,396.15 L225.67,396.21 L226.05,396.28 L226.44,396.35 L226.83,396.42 L227.21,396.49 L227.6,396.56 L227.99,396.63 L228.37,396.7 L228.76,396.77 L229.14,396.84 L229.53,396.91 L229.92,396.98 L230.3,397.05 L230.69,397.13 L231.07,397.2 L231.46,397.27 L231.85,397.35 L232.23,397.42 L232.62,397.5 L233.01,397.57 L233.39,397.65 L233.78,397.73 L234.16,397.8 L234.55,397.88 L234.94,397.96 L235.32,398.04 L235.71,398.11 L236.09,398.19 L236.48,398.27 L236.87,398.35 L237.25,398.43 L237.64,398.52 L238.02,398.6 L238.41,398.68 L238.8,398.76 L239.18,398.85 L239.57,398.93 L239.96,399.01 L240.34,399.1 L240.73,399.18 L241.11,399.27 L241.5,399.36 L241.89,399.44 L242.27,399.53 L242.66,399.62 L243.04,399.71 L243.43,399.8 L243.82,399.89 L244.2,399.98 L244.59,400.07 L244.98,400.16 L245.36,400.25 L245.75,400.35 L246.13,400.44 L246.52,400.54 L246.91,400.63 L247.29,400.73 L247.68,400.82 L248.06,400.92 L248.45,401.02 L248.84,401.12 L249.22,401.21 L249.61,401.31 L250,401.41 L250.38,401.52 L250.77,401.62 L251.15,401.72 L251.54,401.82 L251.93,401.93 L252.31,402.03 L252.7,402.14 L253.08,402.24 L253.47,402.35 L253.86,402.46 L254.24,402.57 L254.63,402.68 L255.02,402.79 L255.4,402.9 L255.79,403.01 L256.17,403.12 L256.56,403.24 L256.95,403.35 L257.33,403.47 L257.72,403.58 L258.1,403.7 L258.49,403.82 L258.88,403.94 L259.26,404.06 L259.65,404.18 L260.04,404.3 L260.42,404.42 L260.81,404.54 L261.19,404.67 L261.58,404.79 L261.97,404.92 L262.35,405.05 L262.74,405.18 L263.12,405.31 L263.51,405.44 L263.9,405.57 L264.28,405.7 L264.67,405.83 L265.06,405.97 L265.44,406.1 L265.83,406.24 L266.21,406.38 L266.6,406.52 L266.99,406.66 L267.37,406.8 L267.76,406.94 L268.14,407.09 L268.53,407.23 L268.92,407.38 L269.3,407.53 L269.69,407.67 L270.08,407.82 L270.46,407.98 L270.85,408.13 L271.23,408.28 L271.62,408.44 L272.01,408.59 L272.39,408.75 L272.78,408.91 L273.16,409.07 L273.55,409.24 L273.94,409.4 L274.32,409.56 L274.71,409.73 L275.1,409.9 L275.48,410.07 L275.87,410.24 L276.25,410.41 L276.64,410.59 L277.03,410.76 L277.41,410.94 L277.8,411.12 L278.18,411.3 L278.57,411.49 L278.96,411.67 L279.34,411.86 L279.73,412.05 L280.12,412.24 L280.5,412.43 L280.89,412.62 L281.27,412.82 L281.66,413.01 L282.05,413.21 L282.43,413.42 L282.82,413.62 L283.2,413.82 L283.59,414.03 L283.98,414.24 L284.36,414.45 L284.75,414.67 L285.14,414.88 L285.52,415.1 L285.91,415.32 L286.29,415.55 L286.68,415.77 L287.07,416 L287.45,416.23 L287.84,416.46 L288.22,416.7 L288.61,416.94 L289,417.18 L289.38,417.42 L289.77,417.66 L290.16,417.91 L290.54,418.16 L290.93,418.42 L291.31,418.67 L291.7,418.93 L292.09,419.2 L292.47,419.46 L292.86,419.73 L292.95,419.8 L293.05,419.87 L293.15,419.93 L293.24,420 L293.34,420.07 L293.44,420.14 L293.53,420.21 L293.63,420.28 L293.73,420.35 L293.82,420.42 L293.92,420.49 L294.02,420.56 L294.11,420.63 L294.21,420.7 L294.31,420.77 L294.4,420.84 L294.5,420.91 L294.6,420.98 L294.69,421.05 L294.79,421.12 L294.89,421.19 L294.98,421.26 L295.08,421.34 L295.18,421.41 L295.27,421.48 L295.37,421.55 L295.46,421.63 L295.56,421.7 L295.66,421.77 L295.75,421.85 L295.85,421.92 L295.95,422 L296.04,422.07 L296.14,422.14 L296.24,422.22 L296.33,422.29 L296.43,422.37 L296.53,422.44 L296.62,422.52 L296.72,422.6 L296.82,422.67 L296.91,422.75 L297.01,422.83 L297.11,422.9 L297.2,422.98 L297.3,423.06 L297.4,423.13 L297.49,423.21 L297.59,423.29 L297.69,423.37 L297.78,423.45 L297.88,423.53 L297.97,423.6 L298.07,423.68 L298.17,423.76 L298.26,423.84 L298.36,423.92 L298.46,424 L298.55,424.08 L298.65,424.16 L298.75,424.25 L298.84,424.33 L298.94,424.41 L299.04,424.49 L299.13,424.57 L299.23,424.65 L299.33,424.74 L299.42,424.82 L299.52,424.9 L299.62,424.99 L299.71,425.07 L299.81,425.15 L299.91,425.24 L300,425.32 L300.1,425.41 L300.2,425.49 L300.29,425.58 L300.39,425.66 L300.48,425.75 L300.58,425.83 L300.68,425.92 L300.77,426.01 L300.87,426.09 L300.97,426.18 L301.06,426.27 L301.16,426.36 L301.26,426.44 L301.35,426.53 L301.45,426.62 L301.55,426.71 L301.64,426.8 L301.74,426.89 L301.84,426.98 L301.93,427.07 L302.03,427.16 L302.13,427.25 L302.22,427.34 L302.32,427.43 L302.42,427.52 L302.51,427.62 L302.61,427.71 L302.71,427.8 L302.8,427.89 L302.9,427.99 L302.99,428.08 L303.09,428.17 L303.19,428.27 L303.28,428.36 L303.38,428.46 L303.48,428.55 L303.57,428.65 L303.67,428.74 L303.77,428.84 L303.86,428.94 L303.96,429.03 L304.06,429.13 L304.15,429.23 L304.25,429.32 L304.35,429.42 L304.44,429.52 L304.54,429.62 L304.64,429.72 L304.73,429.82 L304.83,429.92 L304.93,430.02 L305.02,430.12 L305.12,430.22 L305.22,430.32 L305.31,430.42 L305.41,430.52 L305.5,430.63 L305.6,430.73 L305.7,430.83 L305.79,430.93 L305.89,431.04 L305.99,431.14 L306.08,431.25 L306.18,431.35 L306.28,431.46 L306.37,431.56 L306.47,431.67 L306.57,431.78 L306.66,431.88 L306.76,431.99 L306.86,432.1 L306.95,432.2 L307.05,432.31 L307.15,432.42 L307.24,432.53 L307.34,432.64 L307.44,432.75 L307.53,432.86 L307.63,432.97 L307.73,433.08 L307.82,433.19 L307.92,433.31 L308.01,433.42 L308.11,433.53 L308.21,433.64 L308.3,433.76 L308.4,433.87 L308.5,433.99 L308.59,434.1 L308.69,434.22 L308.79,434.33 L308.88,434.45 L308.98,434.56 L309.08,434.68 L309.17,434.8 L309.27,434.92 L309.37,435.03 L309.46,435.15 L309.56,435.27 L309.66,435.39 L309.75,435.51 L309.85,435.63 L309.95,435.75 L310.04,435.88 L310.14,436 L310.24,436.12 L310.33,436.24 L310.43,436.37 L310.52,436.49 L310.62,436.62 L310.72,436.74 L310.81,436.87 L310.91,436.99 L311.01,437.12 L311.1,437.25 L311.2,437.37 L311.3,437.5 L311.39,437.63 L311.49,437.76 L311.59,437.89 L311.68,438.02 L311.78,438.15 L311.88,438.28 L311.97,438.41 L312.07,438.54 L312.17,438.68 L312.26,438.81 L312.36,438.94 L312.46,439.08 L312.55,439.21 L312.65,439.35 L312.74,439.48 L312.84,439.62 L312.94,439.76 L313.03,439.89 L313.13,440.03 L313.23,440.17 L313.32,440.31 L313.42,440.45 L313.52,440.59 L313.61,440.73 L313.71,440.87 L313.81,441.01 L313.9,441.16 L314,441.3 L314.1,441.44 L314.19,441.59 L314.29,441.73 L314.39,441.88 L314.48,442.03 L314.58,442.17 L314.68,442.32 L314.77,442.47 L314.87,442.62 L314.97,442.77 L315.06,442.92 L315.16,443.07 L315.25,443.22 L315.35,443.37 L315.45,443.52 L315.54,443.68 L315.64,443.83 L315.74,443.99 L315.83,444.14 L315.93,444.3 L316.03,444.46 L316.12,444.61 L316.22,444.77 L316.32,444.93 L316.41,445.09 L316.51,445.25 L316.61,445.41 L316.7,445.57 L316.8,445.73 L316.9,445.9 L316.99,446.06 L317.09,446.23 L317.19,446.39 L317.28,446.56 L317.38,446.72 L317.48,446.89 L317.57,447.06 L317.67,447.23 L317.76,447.4 L317.86,447.57 L317.96,447.74 L318.05,447.91 L318.15,448.09 L318.25,448.26 L318.34,448.44 L318.44,448.61 L318.54,448.79 L318.63,448.96 L318.73,449.14 L318.83,449.32 L318.92,449.5 L319.02,449.68 L319.12,449.86 L319.21,450.04 L319.31,450.23 L319.41,450.41 L319.5,450.6 L319.6,450.78 L319.7,450.97 L319.79,451.16 L319.89,451.34 L319.99,451.53 L320.08,451.72 L320.18,451.91 L320.27,452.11 L320.37,452.3 L320.47,452.49 L320.56,452.69 L320.66,452.88 L320.76,453.08 L320.85,453.28 L320.95,453.48 L321.05,453.68 L321.14,453.88 L321.24,454.08 L321.34,454.28 L321.43,454.48 L321.53,454.69 L321.63,454.9 L321.72,455.1 L321.82,455.31 L321.92,455.52 L322.01,455.73 L322.11,455.94 L322.21,456.15 L322.3,456.36 L322.4,456.58 L322.5,456.79 L322.59,457.01 L322.69,457.23 L322.78,457.45 L322.88,457.67 L322.98,457.89 L323.07,458.11 L323.17,458.33 L323.27,458.56 L323.36,458.78 L323.46,459.01 L323.56,459.24 L323.65,459.47 L323.75,459.7 L323.85,459.93 L323.94,460.16 L324.04,460.39 L324.14,460.63 L324.23,460.87 L324.33,461.1 L324.43,461.34 L324.52,461.58 L324.62,461.83 L324.72,462.07 L324.81,462.31 L324.91,462.56 L325.01,462.81 L325.1,463.05 L325.2,463.3 L325.29,463.56 L325.39,463.81 L325.49,464.06 L325.58,464.32 L325.68,464.57 L325.78,464.83 L325.87,465.09 L325.97,465.35 L326.07,465.62 L326.16,465.88 L326.26,466.15 L326.36,466.41 L326.45,466.68 L326.55,466.95 L326.65,467.22 L326.74,467.5 L326.84,467.77 L326.94,468.05 L327.03,468.33 L327.13,468.61 L327.23,468.89 L327.32,469.17 L327.42,469.46 L327.52,469.74 L327.61,470.03 L327.71,470.32 L327.8,470.61 L327.9,470.91 L328,471.2 L328.09,471.5 L328.19,471.8 L328.29,472.1 L328.38,472.4 L328.48,472.7 L328.58,473.01 L328.67,473.32 L328.77,473.63 L328.87,473.94 L328.96,474.25 L329.06,474.57 L329.16,474.89 L329.25,475.21 L329.35,475.53 L329.45,475.85 L329.54,476.18 L329.64,476.51 L329.74,476.84 L329.83,477.17 L329.93,477.5 L330.03,477.84 L330.12,478.18 L330.22,478.52 L330.31,478.86 L330.41,479.2 L330.51,479.55 L330.6,479.9 L330.7,480.25 L330.8,480.61 L330.89,480.96 L330.99,481.32 L331.09,481.68 L331.18,482.05 L331.28,482.41 L331.38,482.78 L331.47,483.15 L331.57,483.53 L331.67,483.9 L331.76,484.28 L331.86,484.66 L331.96,485.05 L332.05,485.43 L332.15,485.82 L332.25,486.21 L332.34,486.61 L332.44,487 L332.54,487.41 L332.63,487.81 L332.73,488.21 L332.82,488.62 L332.92,489.03 L333.02,489.45 L333.11,489.87 L333.21,490.29" fill="none" stroke="#ff0000" stroke-width="4.0" stroke-linejoin="round"/>
</g>
<text x="39.7" y="500.1" text-anchor="middle" class="tk">0</text>
<text x="116.8" y="500.1" text-anchor="middle" class="tk">10</text>
<text x="193.8" y="500.1" text-anchor="middle" class="tk">20</text>
<text x="270.8" y="500.1" text-anchor="middle" class="tk">30</text>
<text x="348" y="500.1" text-anchor="middle" class="tk">40</text>
<text x="425.8" y="500.1" text-anchor="middle" class="tk">50</text>
<text x="502.8" y="500.1" text-anchor="middle" class="tk">60</text>
<text x="34.3" y="473.2" text-anchor="end" class="tk">40</text>
<text x="34.3" y="433.6" text-anchor="end" class="tk">45</text>
<text x="34.3" y="395" text-anchor="end" class="tk">50</text>
<text x="34.3" y="355.6" text-anchor="end" class="tk">55</text>
<text x="34.3" y="316.9" text-anchor="end" class="tk">60</text>
<text x="280.2" y="294.9" text-anchor="middle" class="tt">E0 = 52.5443, R = 0.012, K = 0.010422, A = 3.5358, B = 1.5306</text>
<text x="279.9" y="517.9" text-anchor="middle" class="lb">Ampere-hour (Ah)</text>
<text transform="translate(14,391.6) rotate(-90)" x="0" y="0" text-anchor="middle" class="lb">Voltage</text>
<rect x="441" y="312.3" width="68.5" height="31.6" fill="#fff" stroke="#262626" stroke-width="1"/>
<line x1="444.6" y1="320.6" x2="481.1" y2="320.6" stroke="#0072bd" stroke-width="3.8"/>
<line x1="444.6" y1="335.8" x2="481.1" y2="335.8" stroke="#ff0000" stroke-width="3.8"/>
<text x="483.4" y="325.6" class="lg" style="font-size:11.6px">20 A</text>
<text x="483.4" y="339.9" class="lg" style="font-size:11.6px">80 A</text>
<text x="267.2" y="543.9" text-anchor="middle" class="cap">(<tspan font-weight="bold">b</tspan>)</text>
</svg></body></html>
